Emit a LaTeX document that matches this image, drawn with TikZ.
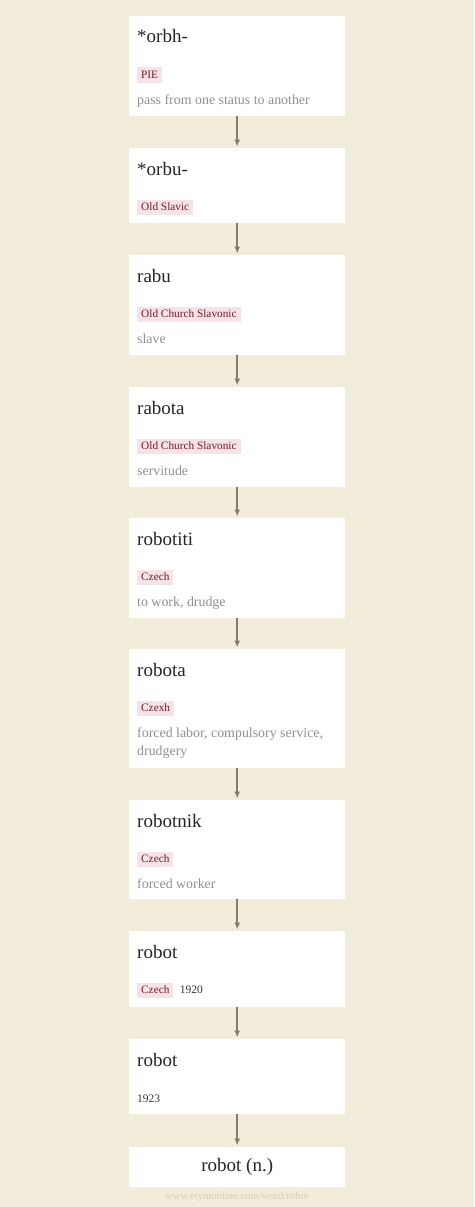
\documentclass[tikz,border=0pt]{standalone}
\usepackage{fontspec}
\setmainfont{Liberation Serif}
\usetikzlibrary{positioning,arrows.meta}
\definecolor{paper}{HTML}{F2ECDA}
\definecolor{tagfill}{HTML}{F6E3E7}
\definecolor{tagtext}{HTML}{74192C}
\definecolor{glosstext}{HTML}{909090}
\definecolor{linkcolor}{HTML}{867C6A}
\definecolor{footer}{HTML}{D6CDBA}
\tikzset{>={Latex[length=7pt,width=6pt]}}

\begin{document}
\begin{tikzpicture}[x=1pt,y=-1pt,
  entry/.style={fill=white,anchor=north west,minimum width=216pt,inner sep=0pt},
  word/.style={anchor=base west,inner sep=0pt,text=black!85,font=\fontsize{19}{22}\selectfont},
  lang/.style={anchor=west,fill=tagfill,text=tagtext,inner xsep=4pt,inner ysep=0pt,minimum height=15pt,font=\fontsize{11.3}{13}\selectfont},
  gloss/.style={anchor=base west,inner sep=0pt,text=glosstext,font=\fontsize{13.9}{16}\selectfont},
  year/.style={anchor=base west,inner sep=0pt,text=black!80,font=\fontsize{11.5}{13}\selectfont},
  link/.style={->,linkcolor,line width=1.5pt,shorten >=1.5pt}]
  \fill[paper] (0,0) rectangle (474,1207);
  \useasboundingbox (0,0) rectangle (474,1207);
  % *orbh-
  \node[entry,minimum height=100pt] (orbh) at (129,16) {};
  \node[word] at ([xshift=8pt,yshift=-27pt]orbh.north west) {*orbh-};
  \node[lang] at ([xshift=8pt,yshift=-59pt]orbh.north west) {PIE};
  \node[gloss] at ([xshift=8pt,yshift=-88pt]orbh.north west) {pass from one status to another};
  % *orbu-
  \node[entry,minimum height=75pt] (orbu) at (129,148) {};
  \node[word] at ([xshift=8pt,yshift=-27pt]orbu.north west) {*orbu-};
  \node[lang] at ([xshift=8pt,yshift=-59pt]orbu.north west) {Old Slavic};
  % rabu
  \node[entry,minimum height=100pt] (rabu) at (129,255) {};
  \node[word] at ([xshift=8pt,yshift=-27pt]rabu.north west) {rabu};
  \node[lang] at ([xshift=8pt,yshift=-59pt]rabu.north west) {Old Church Slavonic};
  \node[gloss] at ([xshift=8pt,yshift=-88pt]rabu.north west) {slave};
  % rabota
  \node[entry,minimum height=100pt] (rabota) at (129,387) {};
  \node[word] at ([xshift=8pt,yshift=-27pt]rabota.north west) {rabota};
  \node[lang] at ([xshift=8pt,yshift=-59pt]rabota.north west) {Old Church Slavonic};
  \node[gloss] at ([xshift=8pt,yshift=-88pt]rabota.north west) {servitude};
  % robotiti
  \node[entry,minimum height=100pt] (robotiti) at (129,518) {};
  \node[word] at ([xshift=8pt,yshift=-27pt]robotiti.north west) {robotiti};
  \node[lang] at ([xshift=8pt,yshift=-59pt]robotiti.north west) {Czech};
  \node[gloss] at ([xshift=8pt,yshift=-88pt]robotiti.north west) {to work, drudge};
  % robota
  \node[entry,minimum height=119pt] (robota) at (129,649) {};
  \node[word] at ([xshift=8pt,yshift=-27pt]robota.north west) {robota};
  \node[lang] at ([xshift=8pt,yshift=-59pt]robota.north west) {Czexh};
  \node[gloss] at ([xshift=8pt,yshift=-88pt]robota.north west) {forced labor, compulsory service,};
  \node[gloss] at ([xshift=8pt,yshift=-106pt]robota.north west) {drudgery};
  % robotnik
  \node[entry,minimum height=99pt] (robotnik) at (129,800) {};
  \node[word] at ([xshift=8pt,yshift=-27pt]robotnik.north west) {robotnik};
  \node[lang] at ([xshift=8pt,yshift=-59pt]robotnik.north west) {Czech};
  \node[gloss] at ([xshift=8pt,yshift=-88pt]robotnik.north west) {forced worker};
  % robot, 1920
  \node[entry,minimum height=76pt] (robotcz) at (129,931) {};
  \node[word] at ([xshift=8pt,yshift=-27pt]robotcz.north west) {robot};
  \node[lang] (robotcz-lang) at ([xshift=8pt,yshift=-59pt]robotcz.north west) {Czech};
  \node[year] at ([xshift=6pt]robotcz-lang.base east) {1920};
  % robot, 1923
  \node[entry,minimum height=75pt] (roboten) at (129,1039) {};
  \node[word] at ([xshift=8pt,yshift=-27pt]roboten.north west) {robot};
  \node[year] at ([xshift=8pt,yshift=-63pt]roboten.north west) {1923};
  % robot (n.)
  \node[entry,minimum height=40pt] (robot) at (129,1147) {};
  \node[text=black!85,font=\fontsize{19}{22}\selectfont] at (robot.center) {robot (n.)};
  \node[text=footer,font=\fontsize{10.6}{12}\selectfont] (url) at (237,1197) {www.etymonline.com/word/robot};
  % links
  \draw[link] (orbh.south) -- (orbu.north);
  \draw[link] (orbu.south) -- (rabu.north);
  \draw[link] (rabu.south) -- (rabota.north);
  \draw[link] (rabota.south) -- (robotiti.north);
  \draw[link] (robotiti.south) -- (robota.north);
  \draw[link] (robota.south) -- (robotnik.north);
  \draw[link] (robotnik.south) -- (robotcz.north);
  \draw[link] (robotcz.south) -- (roboten.north);
  \draw[link] (roboten.south) -- (robot.north);
\end{tikzpicture}
\end{document}
